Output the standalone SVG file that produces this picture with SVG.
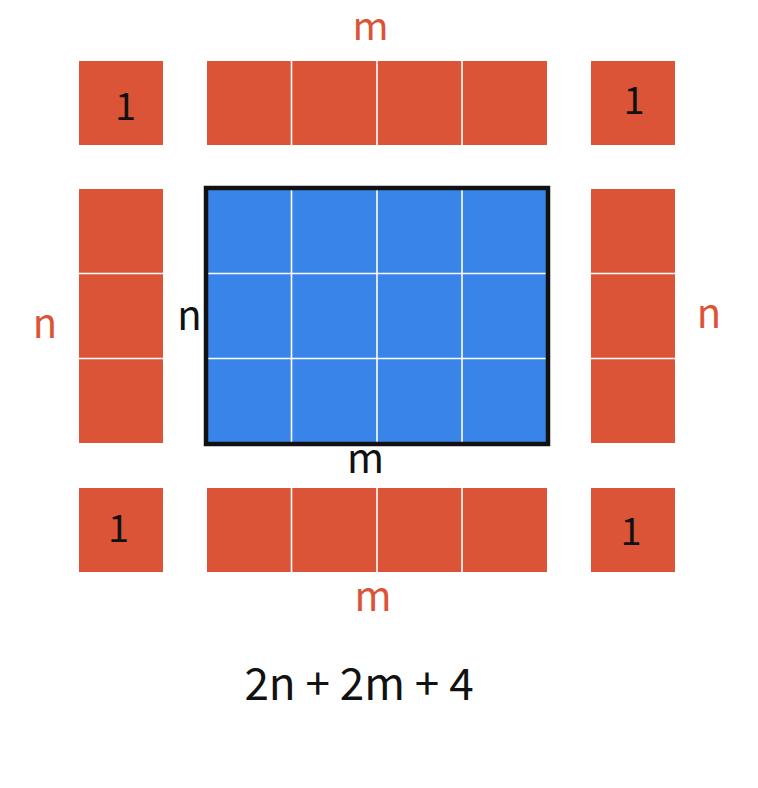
<svg xmlns="http://www.w3.org/2000/svg" width="758" height="788" viewBox="0 0 758 788">
<style>
.r{fill:#DC5437}
.b{fill:#3884E8}
.gl{stroke:#ffffff;stroke-width:1.6}
.t{font-family:"Noto Sans CJK SC","Noto Sans",sans-serif;text-anchor:middle}
.o{fill:#DC5437}
.k{fill:#111111}
</style>
<rect width="758" height="788" fill="#ffffff"/>
<g id="corner-tl">
<rect class="r" x="79" y="61" width="84" height="84"/>
<text class="t k" x="125.5" y="120" font-size="38">1</text>
</g>
<g id="corner-tr">
<rect class="r" x="591" y="61" width="84" height="84"/>
<text class="t k" x="634" y="114" font-size="38">1</text>
</g>
<g id="corner-bl">
<rect class="r" x="79" y="488" width="84" height="84"/>
<text class="t k" x="118.5" y="542" font-size="38">1</text>
</g>
<g id="corner-br">
<rect class="r" x="591" y="488" width="84" height="84"/>
<text class="t k" x="631" y="545" font-size="38">1</text>
</g>
<g id="row-top">
<rect class="r" x="207" y="61" width="340" height="84"/>
<line class="gl" x1="291.5" y1="61" x2="291.5" y2="145"/>
<line class="gl" x1="377" y1="61" x2="377" y2="145"/>
<line class="gl" x1="462" y1="61" x2="462" y2="145"/>
</g>
<g id="row-bottom">
<rect class="r" x="207" y="488" width="340" height="84"/>
<line class="gl" x1="291.5" y1="488" x2="291.5" y2="572"/>
<line class="gl" x1="377" y1="488" x2="377" y2="572"/>
<line class="gl" x1="462" y1="488" x2="462" y2="572"/>
</g>
<g id="col-left">
<rect class="r" x="79" y="189" width="84" height="254"/>
<line class="gl" x1="79" y1="273.5" x2="163" y2="273.5"/>
<line class="gl" x1="79" y1="358.5" x2="163" y2="358.5"/>
</g>
<g id="col-right">
<rect class="r" x="591" y="189" width="84" height="254"/>
<line class="gl" x1="591" y1="273.5" x2="675" y2="273.5"/>
<line class="gl" x1="591" y1="358.5" x2="675" y2="358.5"/>
</g>
<g id="grid">
<rect class="b" x="206" y="188" width="342" height="256"/>
<line class="gl" x1="291.5" y1="188" x2="291.5" y2="444"/>
<line class="gl" x1="377" y1="188" x2="377" y2="444"/>
<line class="gl" x1="462" y1="188" x2="462" y2="444"/>
<line class="gl" x1="206" y1="273.5" x2="548" y2="273.5"/>
<line class="gl" x1="206" y1="358.5" x2="548" y2="358.5"/>
<rect x="206" y="188" width="342" height="256" fill="none" stroke="#111111" stroke-width="4.5"/>
</g>
<g id="labels">
<text class="t o" x="370.5" y="40" font-size="39">m</text>
<text class="t o" x="373" y="611" font-size="40">m</text>
<text class="t o" x="45" y="338" font-size="40">n</text>
<text class="t o" x="709" y="328" font-size="40">n</text>
<text class="t k" x="189.5" y="330" font-size="40">n</text>
<text class="t k" x="365.5" y="473" font-size="40">m</text>
<text class="t k" x="359" y="700" font-size="44">2n + 2m + 4</text>
</g>
</svg>
